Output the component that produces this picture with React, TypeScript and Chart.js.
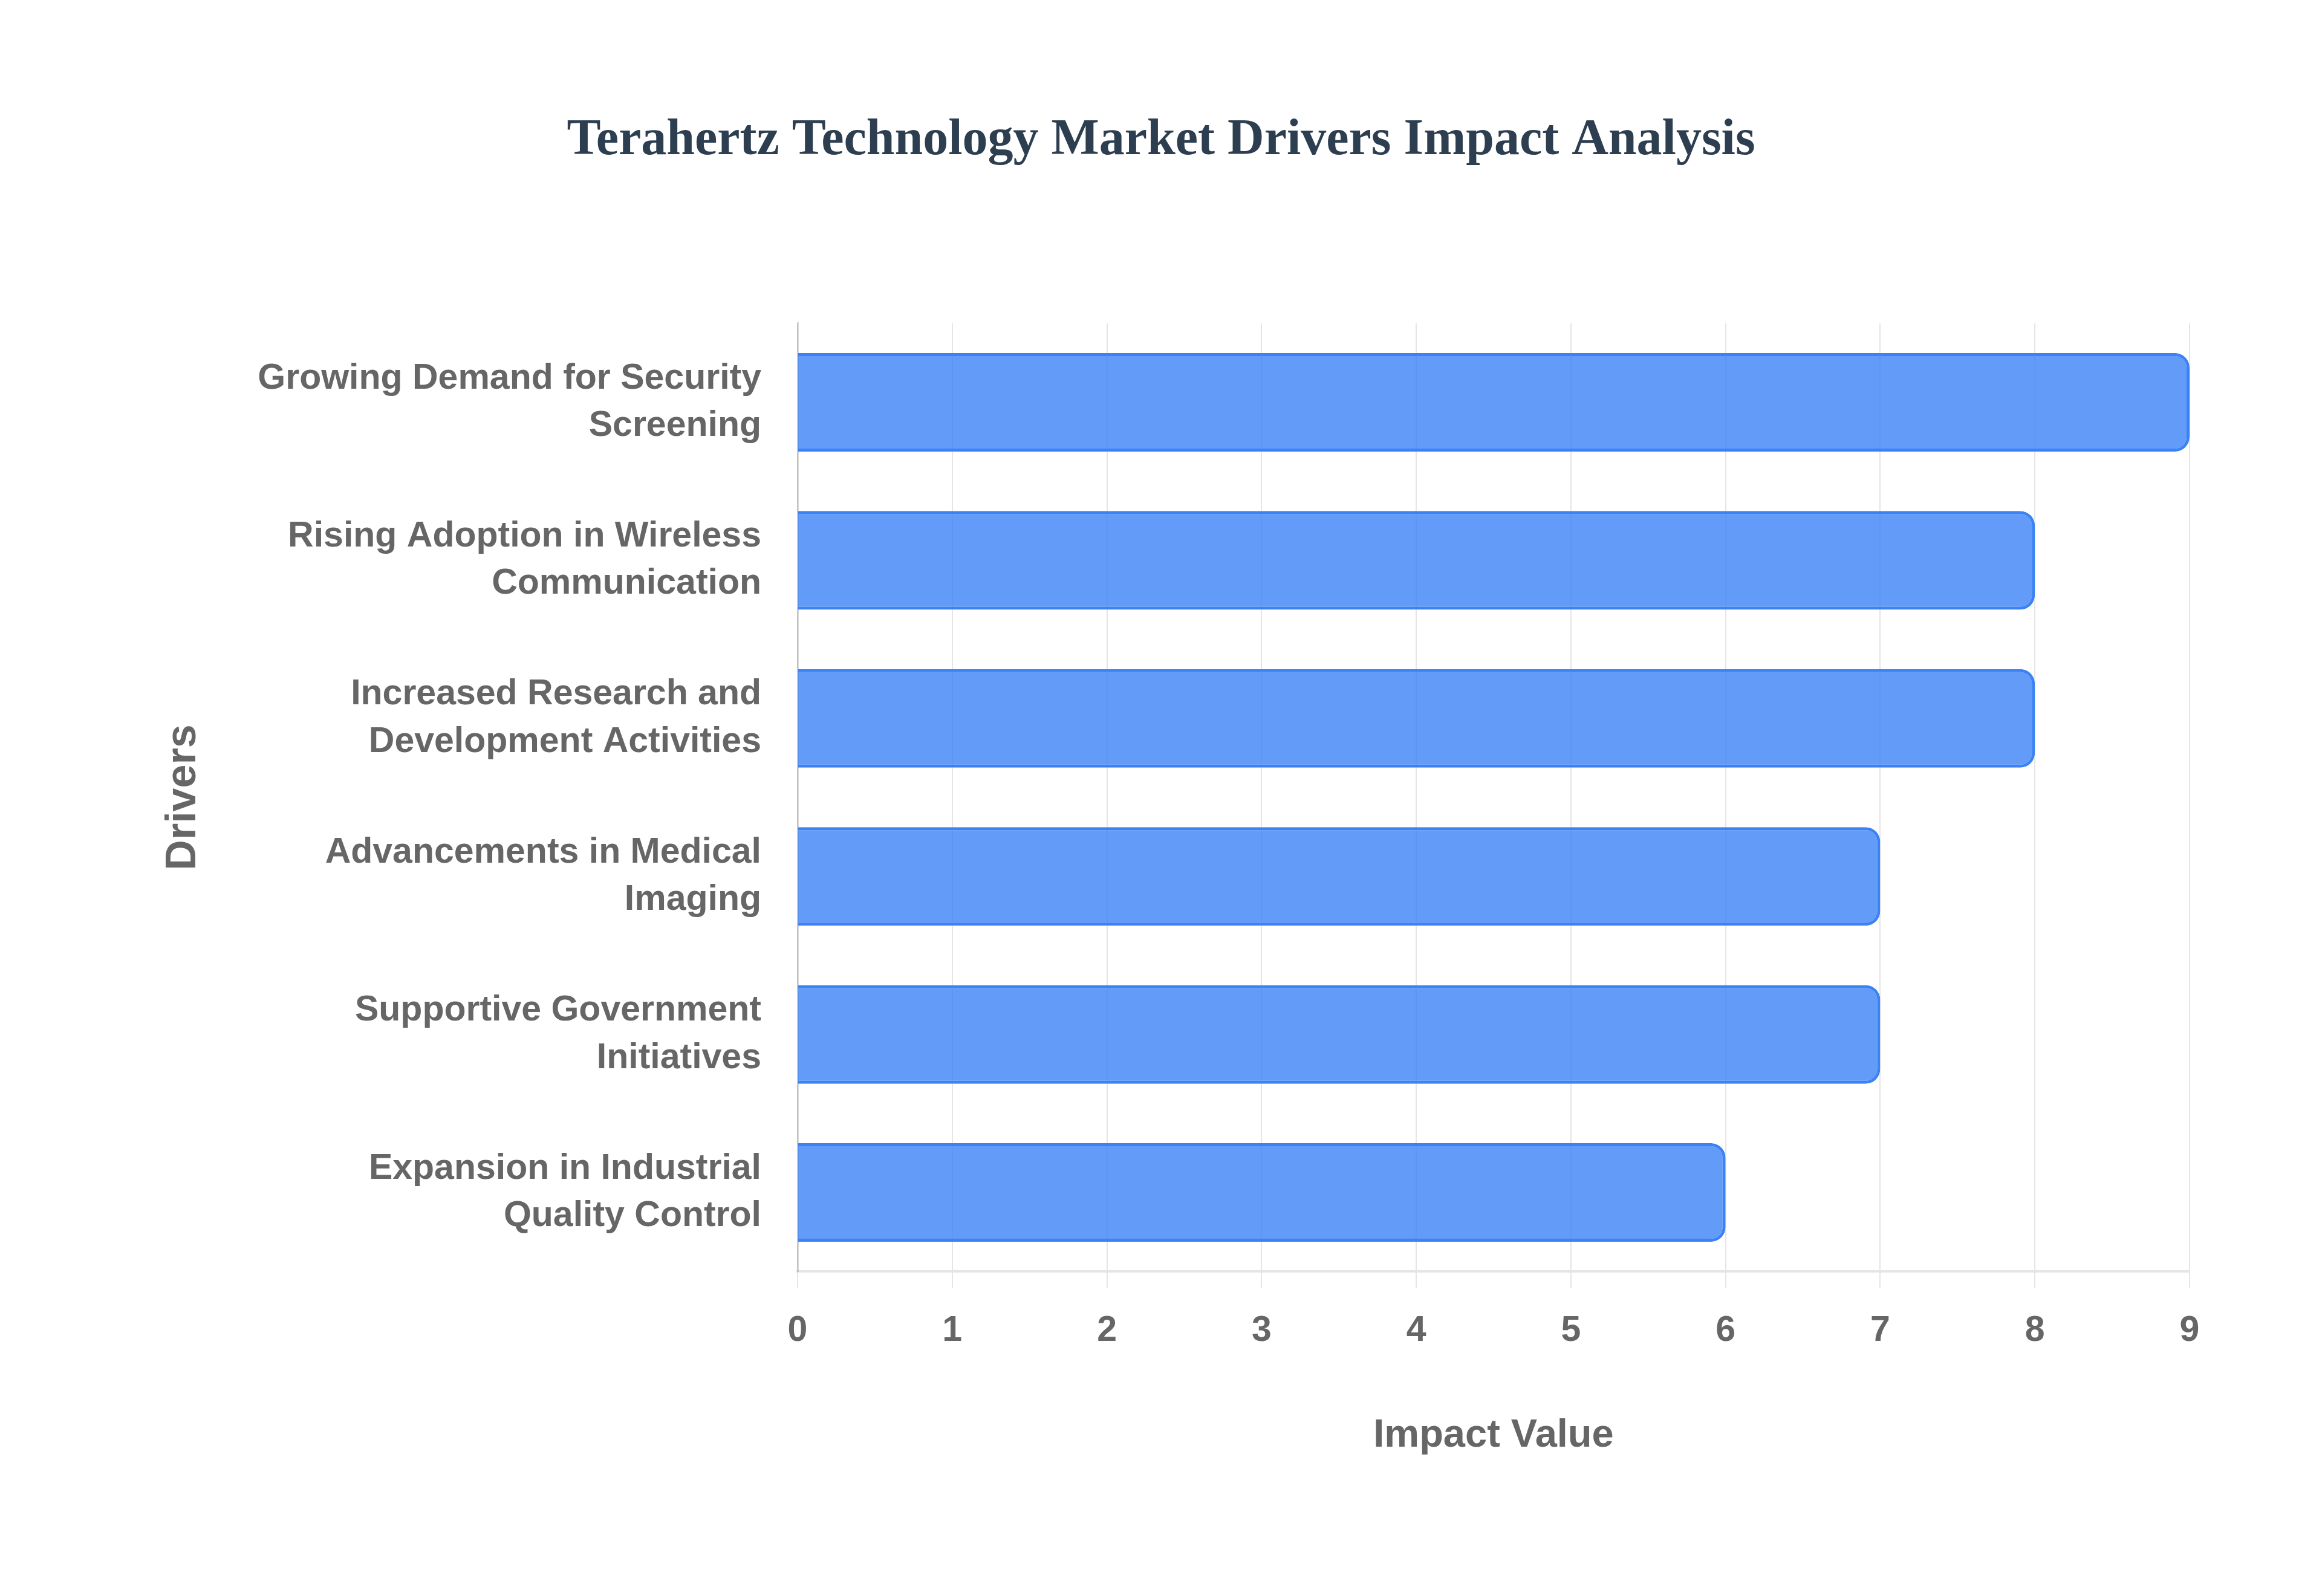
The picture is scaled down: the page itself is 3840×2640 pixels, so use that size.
import React, { useEffect, useRef } from "react";
import { Chart, registerables } from "chart.js";

Chart.register(...registerables);

// Data
const drivers: string[][] = [
  ["Growing Demand for Security", "Screening"],
  ["Rising Adoption in Wireless", "Communication"],
  ["Increased Research and", "Development Activities"],
  ["Advancements in Medical", "Imaging"],
  ["Supportive Government", "Initiatives"],
  ["Expansion in Industrial", "Quality Control"],
];
const impactValues: number[] = [9, 8, 8, 7, 7, 6];

const titleText = "Terahertz Technology Market Drivers Impact Analysis";
const xTitle = "Impact Value";
const yTitle = "Drivers";

const SANS = "'Liberation Sans', Arial, Helvetica, sans-serif";
const SERIF = "'Liberation Serif', 'Times New Roman', serif";

const App = () => {
  const canvasRef = useRef<HTMLCanvasElement | null>(null);

  useEffect(() => {
    document.body.style.margin = "0";
    document.body.style.overflow = "hidden";
    if (!canvasRef.current) return;
    const ctx = canvasRef.current.getContext("2d");
    if (!ctx) return;

    const chart = new Chart(ctx, {
      type: "bar",
      data: {
        labels: drivers,
        datasets: [
          {
            label: "Impact Value",
            data: impactValues,
            backgroundColor: "rgba(59, 130, 246, 0.8)",
            borderColor: "rgba(59, 130, 246, 1)",
            borderWidth: 5,
            borderRadius: 24,
            borderSkipped: "start",
            barPercentage: 0.78,
            categoryPercentage: 0.8,
          },
        ],
      },
      options: {
        indexAxis: "y",
        animation: false,
        responsive: true,
        maintainAspectRatio: false,
        layout: {
          padding: { top: 0, right: 0, bottom: 226, left: 0 },
        },
        plugins: {
          legend: { display: false },
          tooltip: { enabled: false },
          title: {
            display: true,
            text: titleText,
            color: "#2c3e50",
            font: { family: SERIF, size: 84, weight: "bold", lineHeight: 1.2 },
            padding: { top: 183, bottom: 251 },
          },
        },
        scales: {
          x: {
            beginAtZero: true,
            max: 9,
            ticks: {
              stepSize: 1,
              color: "#666666",
              padding: 36,
              font: { family: SANS, size: 59, weight: "bold", lineHeight: 1.2 },
            },
            grid: {
              color: "rgba(0, 0, 0, 0.1)",
              lineWidth: 2,
              tickLength: 27,
            },
            border: { color: "rgba(0, 0, 0, 0.1)", width: 4 },
            title: {
              display: true,
              text: xTitle,
              color: "#666666",
              font: { family: SANS, size: 65, weight: "bold", lineHeight: 1.2 },
              padding: { top: 63, bottom: 0 },
            },
          },
          y: {
            ticks: {
              color: "#666666",
              padding: 60,
              font: { family: SANS, size: 59, weight: "bold", lineHeight: 1.33 },
            },
            grid: { display: false, drawTicks: false },
            border: { color: "rgba(0, 0, 0, 0.15)", width: 3 },
            title: {
              display: true,
              text: yTitle,
              color: "#666666",
              font: { family: SANS, size: 70, weight: "bold", lineHeight: 1.2 },
              padding: { top: 262, bottom: 0 },
            },
            afterFit: (scale: any) => {
              scale.width = 1319;
            },
          },
          // empty right-hand spacer so the title stays centred on the whole canvas
          spacer: {
            type: "linear",
            position: "right",
            display: true,
            grid: { display: false, drawTicks: false },
            ticks: { display: false },
            border: { display: false },
            afterFit: (scale: any) => {
              scale.width = 219;
            },
          },
        },
      },
    });

    return () => {
      chart.destroy();
    };
  }, []);

  return (
    <div style={{ width: "3840px", height: "2640px", position: "relative", background: "#ffffff" }}>
      <canvas ref={canvasRef}></canvas>
    </div>
  );
};

export default App;
